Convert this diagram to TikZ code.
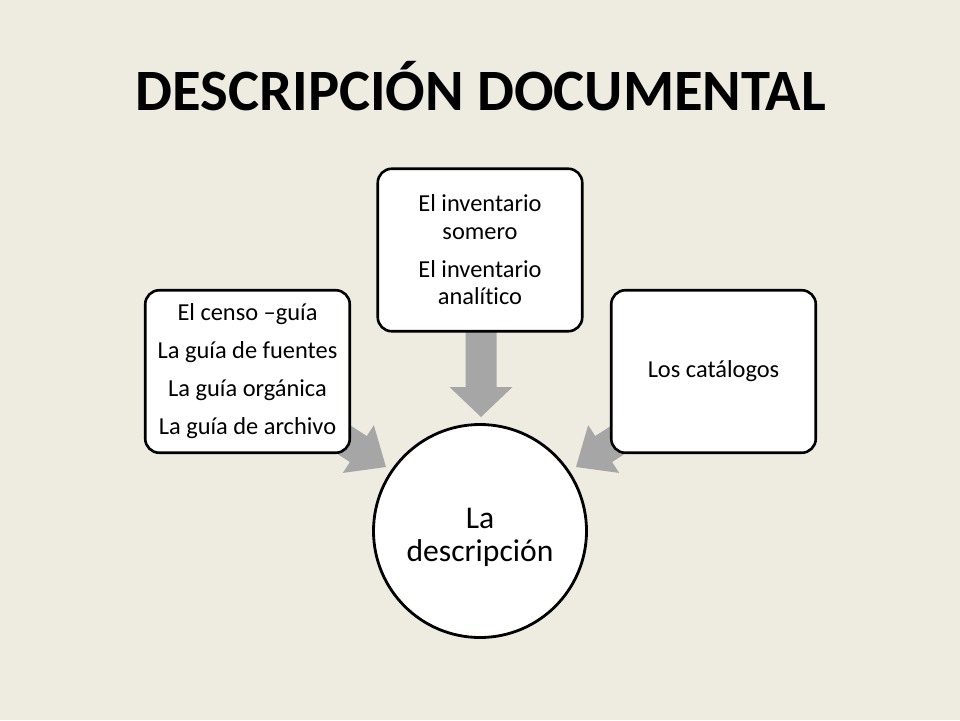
\documentclass[tikz,border=0pt]{standalone}
\usepackage{fontspec}
\setmainfont[Ligatures=NoCommon]{Carlito}
\definecolor{bg}{RGB}{238,236,225}
\definecolor{arrowgray}{RGB}{166,166,166}
\begin{document}
\begin{tikzpicture}[x=1pt,y=-1pt,
  boxstyle/.style={draw=black, line width=2.6pt, fill=white, rounded corners=14pt,
    inner sep=0pt, align=center, font=\fontsize{24.4}{27.5}\selectfont},
  circstyle/.style={draw=black, line width=2.8pt, fill=white, circle, inner sep=0pt},
  fatarrow/.style={fill=arrowgray, draw=none}]
\fill[bg] (0,0) rectangle (960,720);
\useasboundingbox (0,0) rectangle (960,720);

% title
\node[anchor=base, font=\fontsize{58.6}{60}\selectfont\bfseries] (title) at (481,110) {DESCRIPCIÓN DOCUMENTAL};

% arrows (drawn first, boxes cover their tails)
\fill[fatarrow, shift={(481,417)}, rotate=-90]
  (0,0) -- (-30,-31.5) -- (-30,-15.5) -- (-90,-15.5) -- (-90,15.5) -- (-30,15.5) -- (-30,31.5) -- cycle;
\fill[fatarrow, shift={(386,467)}, rotate=-33]
  (0,0) -- (-33,-28.5) -- (-33,-15.5) -- (-95,-15.5) -- (-95,15.5) -- (-33,15.5) -- (-33,28.5) -- cycle;
\fill[fatarrow, shift={(576,467)}, rotate=213]
  (0,0) -- (-33,-28.5) -- (-33,-15.5) -- (-95,-15.5) -- (-95,15.5) -- (-33,15.5) -- (-33,28.5) -- cycle;

% center circle
\node[circstyle, minimum size=213pt] (center) at (480,531) {};
\node[align=center, inner sep=0pt, font=\fontsize{31.6}{33}\selectfont] (centertext) at (480,537) {La\\descripción};

% boxes
\node[boxstyle, minimum width=204.5pt, minimum height=162.5pt] (left) at (247.5,371.5)
  {El censo –guía\\[10.5pt]La guía de fuentes\\[10.5pt]La guía orgánica\\[10.5pt]La guía de archivo};
\node[boxstyle, minimum width=204.5pt, minimum height=162.5pt] (top) at (480,250)
  {El inventario\\somero\\[10.5pt]El inventario\\analít\kern0pt ico};
\node[boxstyle, minimum width=204.5pt, minimum height=162.5pt] (right) at (713.5,371.5)
  {Los catálogos};
\end{tikzpicture}
\end{document}
